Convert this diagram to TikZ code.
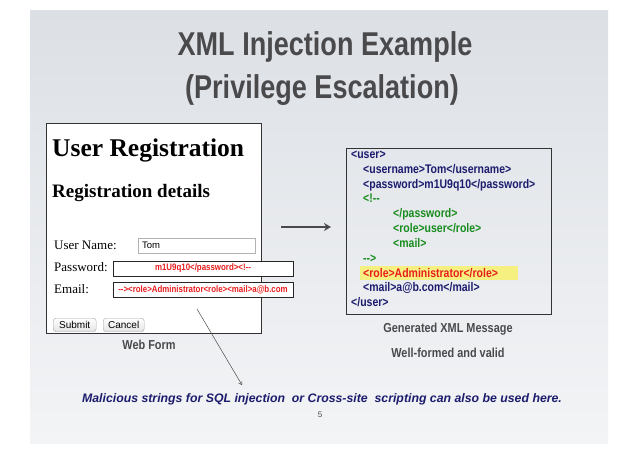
\documentclass[tikz,border=0pt]{standalone}
\usepackage{fontspec}
\setmainfont{Liberation Serif}
\newfontfamily\titlefont[FakeStretch=0.82]{Liberation Sans}
\newfontfamily\condfont[FakeStretch=0.84]{Liberation Sans}
\newfontfamily\plainsans{Liberation Sans}
\usetikzlibrary{arrows.meta}

\definecolor{slidetext}{RGB}{74,74,76}
\definecolor{slidetop}{RGB}{220,224,229}
\definecolor{slidebottom}{RGB}{243,244,246}
\definecolor{xmlnavy}{RGB}{28,28,110}
\definecolor{xmlgreen}{RGB}{24,140,30}
\definecolor{xmlred}{RGB}{232,30,30}
\definecolor{hilite}{RGB}{246,240,128}

\tikzset{
  slidetitle/.style={text=slidetext, font=\titlefont\bfseries\fontsize{33}{33}\selectfont},
  caption/.style={text=slidetext, font=\condfont\bfseries\fontsize{13}{13}\selectfont},
  xmlcode/.style={anchor=base west, inner sep=0pt, font=\condfont\bfseries\fontsize{12.5}{12.5}\selectfont},
  formlabel/.style={anchor=base west, inner sep=0pt, font=\fontsize{13}{13}\selectfont},
  inputbox/.style={draw=black!85, fill=white, minimum width=180, minimum height=15, inner sep=0pt,
    text=xmlred, font=\condfont\bfseries\fontsize{9.4}{9.4}\selectfont},
  formbutton/.style={draw=gray!70, rounded corners=3pt, top color=white, bottom color=gray!22,
    minimum height=13.5, inner sep=0pt, font=\plainsans\fontsize{10}{10}\selectfont}
}

\begin{document}
\begin{tikzpicture}[x=1pt, y=-1pt]
    \useasboundingbox (0,0) rectangle (638,451);
    \fill[white] (0,0) rectangle (638,451);
    \shade[top color=slidetop, bottom color=slidebottom] (30,10) rectangle (608,443);

    % title
    \node[slidetitle] (title1) at (325,47) {XML Injection Example};
    \node[slidetitle] (title2) at (322,90) {(Privilege Escalation)};

    % web form
    \draw[black!80, fill=white] (46,123) rectangle (261,333);
    \node[anchor=base west, inner sep=0pt, font=\bfseries\fontsize{25.5}{25.5}\selectfont] (formhead) at (52,156) {User Registration};
    \node[anchor=base west, inner sep=0pt, font=\bfseries\fontsize{19}{19}\selectfont] (formsub) at (52,197) {Registration details};

    \node[formlabel] (namelabel) at (54,249) {User Name:};
    \node[formlabel] (pwlabel) at (54,271) {Password:};
    \node[formlabel] (maillabel) at (54,293) {Email:};

    \draw[gray!60, fill=white] (138,238) rectangle (255,253);
    \node[anchor=west, inner sep=0pt, font=\plainsans\fontsize{9.5}{9.5}\selectfont] (nametext) at (142,245.5) {Tom};

    \node[inputbox] (pwfield) at (203,268.5) {m1U9q10</password><!-{}-};
    \node[inputbox] (mailfield) at (203,290) {-{}-><role>Administrator<role><mail>a@b.com};

    \node[formbutton, anchor=north west, minimum width=43] (submit) at (53,318) {Submit};
    \node[formbutton, anchor=north west, minimum width=41] (cancel) at (103,318) {Cancel};

    \node[caption] (formcap) at (149,345) {Web Form};

    % arrow to message
    \coordinate (sendstart) at (281,227);
    \coordinate (sendend) at (331,227);
    \draw[slidetext, line width=1.8pt, -{Stealth[length=7pt, width=8pt]}] (sendstart) -- (sendend);

    % generated message
    \draw[black!80] (346,148) rectangle (551,314);
    \fill[hilite] (360,266) rectangle (518,280);

    \node[xmlcode, text=xmlnavy] (xuser) at (351,158.5) {<user>};
    \node[xmlcode, text=xmlnavy] (xname) at (363,173.5) {<username>Tom</username>};
    \node[xmlcode, text=xmlnavy] (xpass) at (363,188) {<password>m1U9q10</password>};
    \node[xmlcode, text=xmlgreen] (xopen) at (363,202.5) {<!-{}-};
    \node[xmlcode, text=xmlgreen] (xpwend) at (393,217.5) {</password>};
    \node[xmlcode, text=xmlgreen] (xrole) at (393,232) {<role>user</role>};
    \node[xmlcode, text=xmlgreen] (xmail) at (393,247) {<mail>};
    \node[xmlcode, text=xmlgreen] (xclose) at (363,262) {-{}->};
    \node[xmlcode, text=xmlred] (xadmin) at (363,277) {<role>Administrator</role>};
    \node[xmlcode, text=xmlnavy] (xaddr) at (363,291.5) {<mail>a@b.com</mail>};
    \node[xmlcode, text=xmlnavy] (xend) at (351,306) {</user>};

    \node[caption] (msgcap) at (448,329) {Generated XML Message};
    \node[caption] (msgnote) at (448,353) {Well-formed and valid};

    % note
    \coordinate (notestart) at (197,309);
    \coordinate (noteend) at (242,385);
    \draw[slidetext, line width=0.5pt, -{Straight Barb[length=3pt, width=4pt]}] (notestart) -- (noteend);

    \node[text=xmlnavy, font=\plainsans\bfseries\itshape\fontsize{12.3}{12.3}\selectfont] (note) at (322,399)
        {Malicious\ strings\ for\ SQL\ injection\ \ or\ Cross-site\ \ scripting\ can\ also\ be\ used\ here.};

    \node[text=slidetext, font=\plainsans\fontsize{8}{8}\selectfont] (page) at (320,415) {5};
\end{tikzpicture}
\end{document}
